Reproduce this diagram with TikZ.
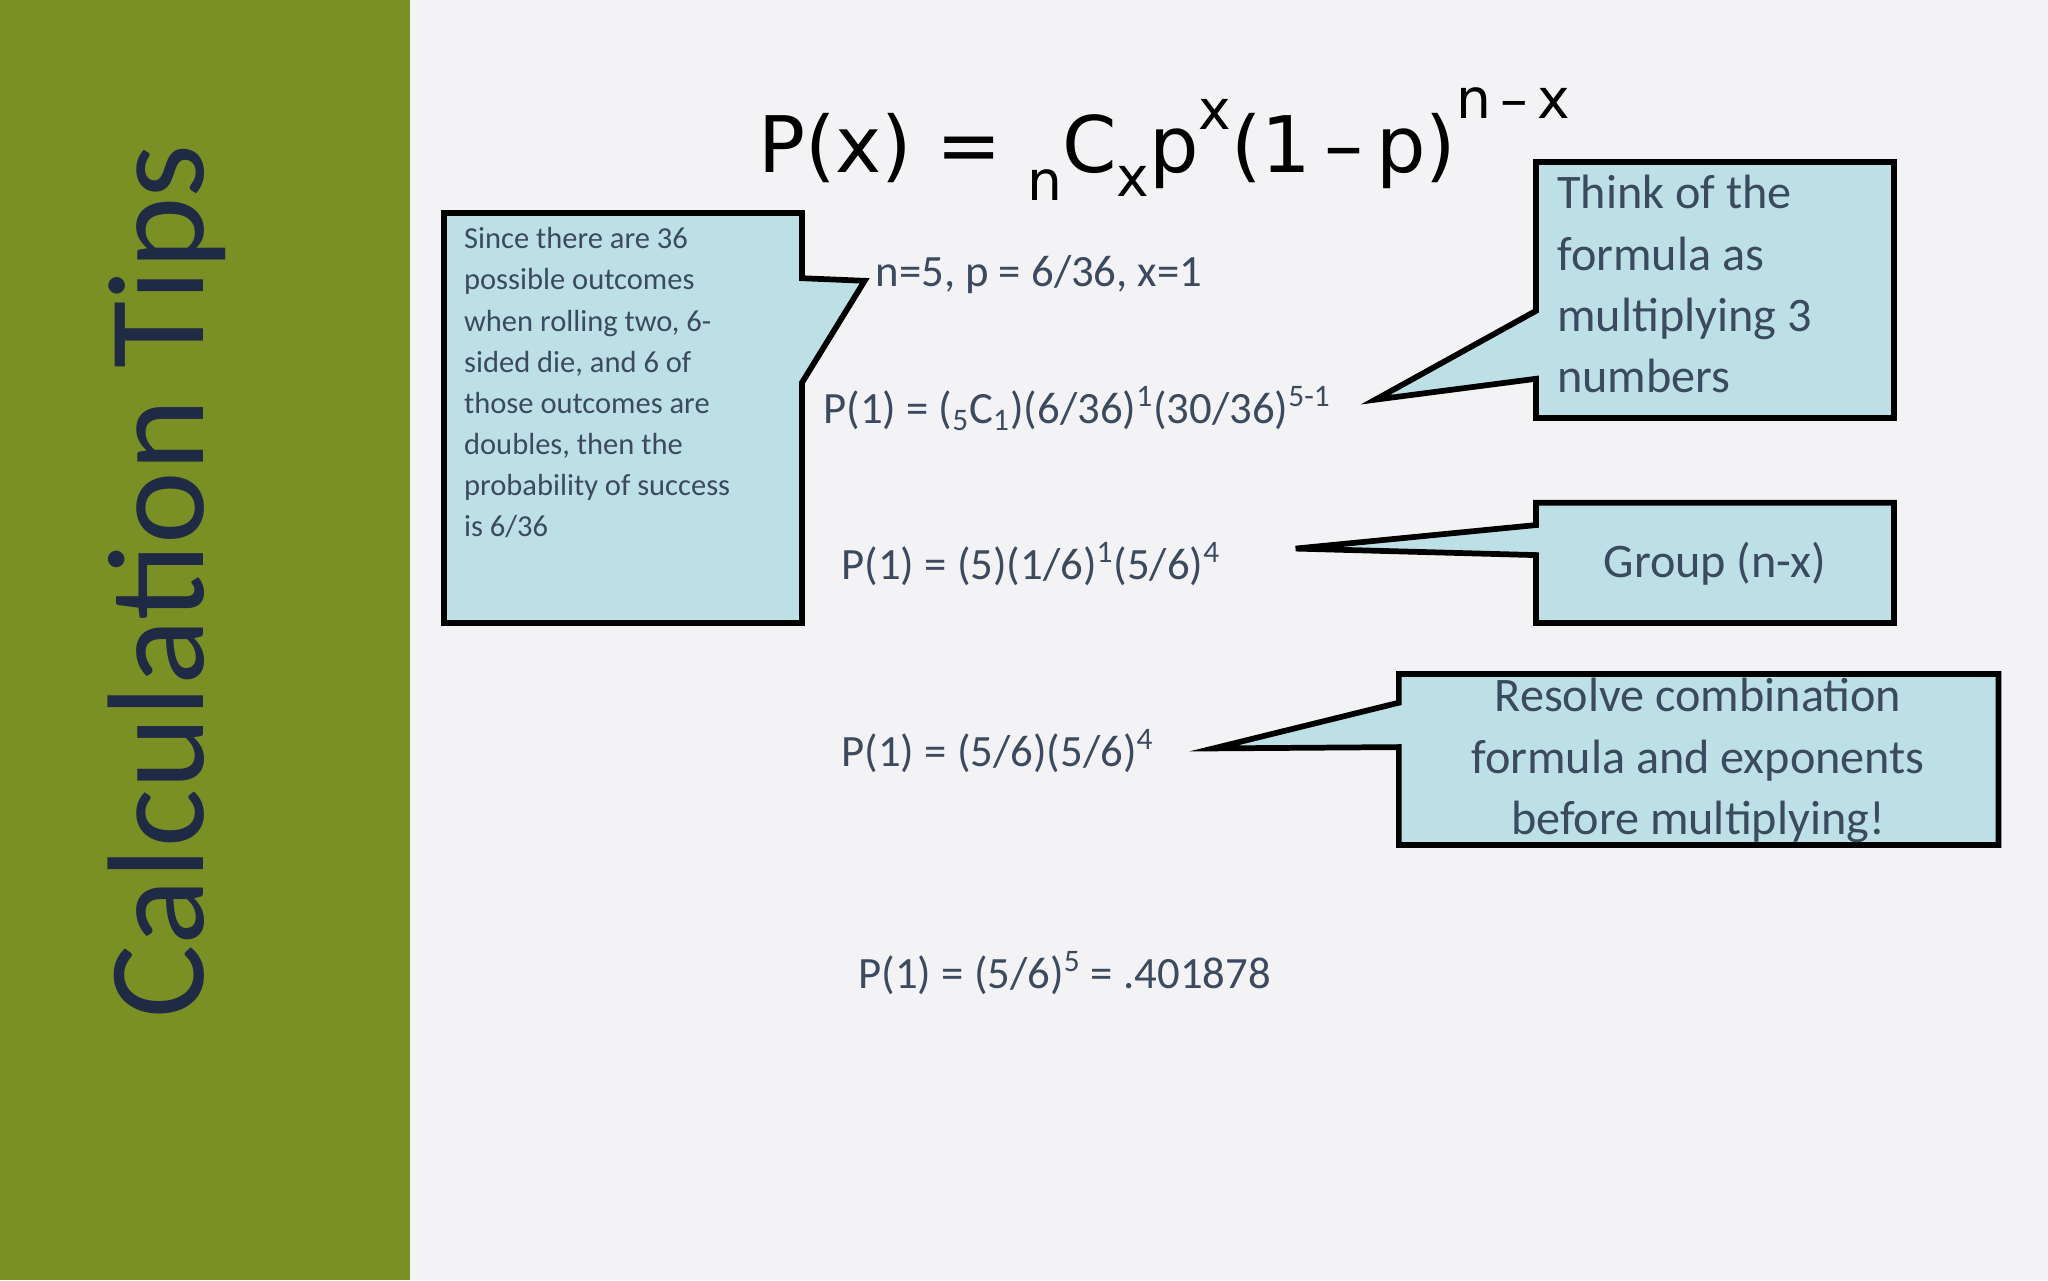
\documentclass[tikz,border=0pt]{standalone}
\usepackage{fontspec}
\setmainfont{Carlito}
\newfontfamily\dv{DejaVu Sans}
\definecolor{bgc}{HTML}{F3F3F5}
\definecolor{olive}{HTML}{7A9024}
\definecolor{navy}{HTML}{1F2A44}
\definecolor{boxc}{HTML}{BDE0E6}
\definecolor{txt}{HTML}{3B4A5E}
\begin{document}
\begin{tikzpicture}[x=0.02cm,y=-0.02cm,
  callout/.style={draw=black,line width=2.5pt,fill=boxc,line join=miter},
  mathline/.style={anchor=west,text=txt,font=\fontsize{19.5}{23}\selectfont,inner sep=0pt},
  ctext/.style={text=txt,font=\fontsize{21}{26.7}\selectfont,inner sep=0pt,align=left,anchor=north west}]
\fill[bgc] (0,0) rectangle (1568,980);
\useasboundingbox (0,0) rectangle (1568,980);
\fill[olive] (0,0) rectangle (314,980);
\node[rotate=90,text=navy,font=\fontsize{60}{60}\selectfont,inner sep=0pt] (title) at (128,445) {Calculation Tips};
\node[anchor=west,inner sep=0pt,font=\dv\fontsize{34}{40}\selectfont] (formula) at (580,110)
 {P(x) = \raisebox{-0.35em}{\fontsize{24}{24}\selectfont n}C\raisebox{-0.3em}{\fontsize{24}{24}\selectfont x}p\raisebox{0.55em}{\fontsize{24}{24}\selectfont x}(1\,–\,p)\raisebox{0.7em}{\fontsize{24}{24}\selectfont n\,–\,x}};
% callout 1
\draw[callout] (340,163) -- (614,163) -- (614,213) -- (662,215) -- (614,293) -- (614,477) -- (340,477) -- cycle;
\node[anchor=north west,text=txt,font=\fontsize{13.3}{17.9}\selectfont,align=left,inner sep=0pt] (t1) at (355,174)
 {Since there are 36\\possible outcomes\\when rolling two, 6-\\sided die, and 6 of\\those outcomes are\\doubles, then the\\probability of success\\is 6/36};
% callout 2
\draw[callout] (1176,124) -- (1450,124) -- (1450,320) -- (1176,320) -- (1176,290) -- (1053,306) -- (1176,238) -- cycle;
\node[ctext] (t2) at (1192,134) {Think of the\\formula as\\multiplying 3\\numbers};
% callout 3
\draw[callout] (1176,385) -- (1450,385) -- (1450,477) -- (1176,477) -- (1176,425) -- (992,420) -- (1176,402) -- cycle;
\node[text=txt,font=\fontsize{21}{26.7}\selectfont,inner sep=0pt] (t3) at (1313,432) {Group (n-x)};
% callout 4
\draw[callout] (1071,516) -- (1530,516) -- (1530,647) -- (1071,647) -- (1071,572) -- (929,573) -- (1071,538) -- cycle;
\node[text=txt,font=\fontsize{21}{26.7}\selectfont,inner sep=0pt,align=center,anchor=north] (t4) at (1300,519)
 {Resolve combination\\formula and exponents\\before multiplying!};
% math lines
\node[mathline] (m1) at (670,210) {n=5, p = 6/36, x=1};
\node[mathline] (m2) at (630,313) {P(1) = (\textsubscript{5}C\textsubscript{1})(6/36)\textsuperscript{1}(30/36)\textsuperscript{5-1}};
\node[mathline] (m3) at (644,432) {P(1) = (5)(1/6)\textsuperscript{1}(5/6)\textsuperscript{4}};
\node[mathline] (m4) at (644,575) {P(1) = (5/6)(5/6)\textsuperscript{4}};
\node[mathline] (m5) at (657,745) {P(1) = (5/6)\textsuperscript{5} = .401878};
\end{tikzpicture}
\end{document}
